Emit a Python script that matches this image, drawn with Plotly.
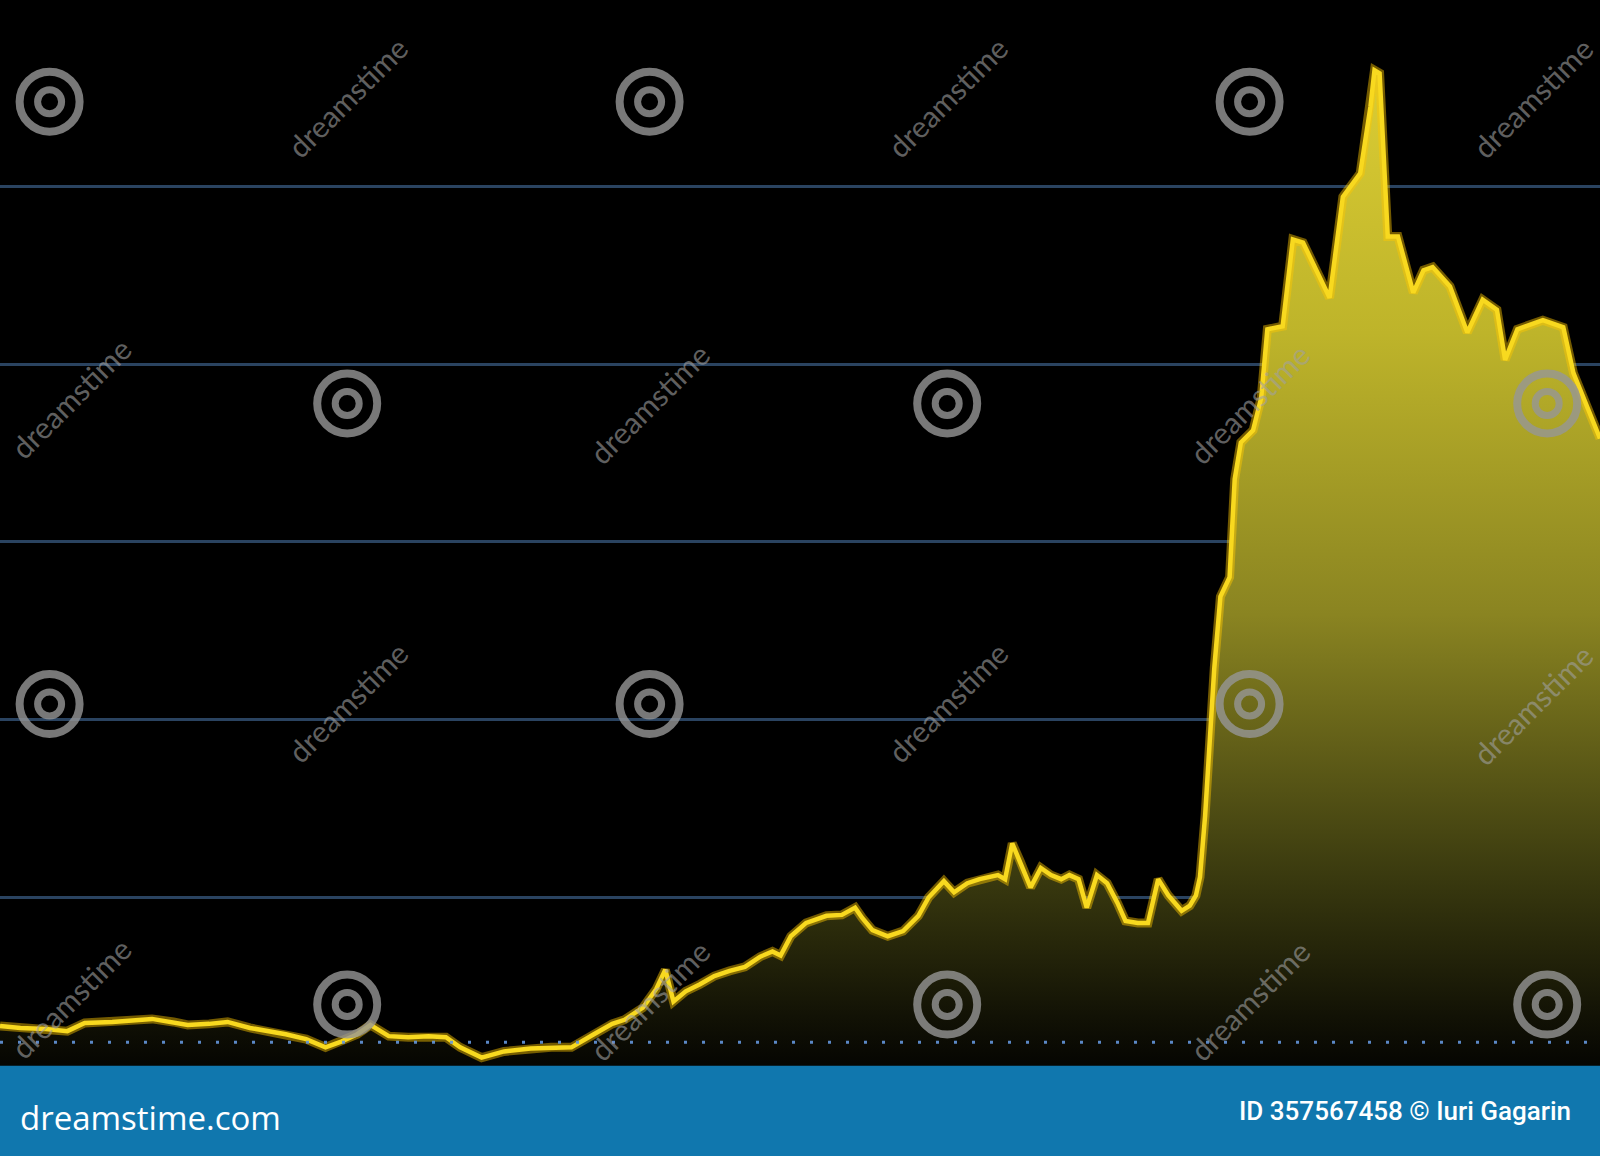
import plotly.graph_objects as go

# price series (x = time index, y = price)
t = [0, 20, 45, 66, 83, 110, 149, 170, 184, 205, 223, 245, 262, 280, 300, 319, 335, 350,
     363, 381, 400, 420, 437, 451, 472, 494, 520, 540, 560, 582, 600, 612, 630, 643, 652,
     660, 672, 686, 700, 715, 730, 745, 757, 765, 775, 790, 810, 825, 838, 845, 855, 870,
     885, 900, 910, 925, 935, 948, 960, 978, 985, 992, 1000, 1010, 1020, 1030, 1040, 1048,
     1057, 1065, 1075, 1085, 1095, 1103, 1115, 1125, 1135, 1145, 1158, 1166, 1172, 1176,
     1181, 1185, 1190, 1196, 1205, 1210, 1216, 1228, 1236, 1242, 1257, 1267, 1277, 1303,
     1316, 1333, 1343, 1347, 1352, 1360, 1370, 1385, 1395, 1404, 1421, 1438, 1453, 1467,
     1475, 1487, 1512, 1532, 1542, 1568]
price = [2.77, 2.66, 2.60, 2.48, 2.94, 3.00, 3.17, 3.00, 2.83, 2.89, 3.00, 2.66, 2.48, 2.31,
         2.03, 1.57, 1.91, 2.31, 2.83, 2.20, 2.14, 2.20, 2.14, 1.57, 0.99, 1.34, 1.51, 1.57,
         1.57, 2.31, 2.89, 3.12, 3.80, 4.84, 5.93, 4.15, 4.72, 5.12, 5.58, 5.87, 6.10, 6.67,
         6.96, 6.73, 7.82, 8.57, 8.97, 9.02, 9.43, 8.85, 8.16, 7.82, 8.11, 8.97, 10.00, 10.92,
         10.29, 10.80, 11.03, 11.26, 11.03, 13.04, 12.01, 10.57, 11.66, 11.26, 11.03, 11.26,
         11.03, 9.43, 11.26, 10.80, 9.71, 8.68, 8.57, 8.57, 11.03, 10.11, 9.25, 9.54, 10.11,
         11.15, 14.59, 18.61, 22.91, 26.92, 28.02, 33.52, 35.59, 36.28, 38.11, 41.96, 42.13,
         47.01, 46.83, 43.73, 49.41, 50.73, 54.46, 56.53, 56.36, 47.18, 47.18, 44.02, 45.28,
         45.46, 44.37, 41.78, 43.62, 43.05, 40.24, 41.96, 42.47, 42.07, 39.49, 35.82]

grid_levels = [10, 20, 30, 40, 50]
baseline_level = 1.85

footer_left = 'dreamstime.com'
footer_right = 'ID 357567458 \u00a9 Iuri Gagarin'

# watermark positions in screen fractions (x from left, y from top)
mark_text_pos = [(0.217, 0.084), (0.592, 0.084), (0.958, 0.084),
                 (0.044, 0.344), (0.406, 0.349), (0.781, 0.349),
                 (0.217, 0.607), (0.592, 0.607), (0.958, 0.609),
                 (0.044, 0.863), (0.406, 0.865), (0.781, 0.865)]
mark_logo_pos = [(0.031, 0.088), (0.406, 0.088), (0.781, 0.088),
                 (0.217, 0.349), (0.592, 0.349), (0.967, 0.349),
                 (0.031, 0.609), (0.406, 0.609), (0.781, 0.609),
                 (0.217, 0.869), (0.592, 0.869), (0.967, 0.869)]

color_line = '#f8d91f'
color_glow = 'rgba(255, 200, 0, 0.45)'
color_grid = '#2a4360'
color_footer = '#1077ae'
footer_frac = 0.078

fig = go.Figure()
fig.add_trace(go.Scatter(
    x=t, y=price, mode='lines', showlegend=False, hoverinfo='skip',
    line=dict(color=color_line, width=0),
    fill='tozeroy',
    fillgradient=dict(
        type='vertical', start=0.5, stop=57,
        colorscale=[[0, 'rgb(5, 5, 2)'], [0.05, 'rgb(18, 18, 5)'],
                    [0.19, 'rgb(58, 58, 15)'], [0.45, 'rgb(138, 132, 33)'],
                    [0.73, 'rgb(190, 180, 42)'], [1, 'rgb(220, 205, 52)']]
    )
))
fig.add_trace(go.Scatter(
    x=t, y=price, mode='lines', showlegend=False, hoverinfo='skip',
    line=dict(color=color_glow, width=9)
))
fig.add_trace(go.Scatter(
    x=t, y=price, mode='lines', showlegend=False,
    line=dict(color=color_line, width=4.5)
))

shapes = [
    dict(type='line', xref='paper', yref='y', x0=0, x1=1,
         y0=baseline_level, y1=baseline_level, layer='above',
         line=dict(color='rgba(100, 150, 220, 0.9)', width=3, dash='3px,15px')),
    dict(type='rect', xref='paper', yref='paper', x0=0, x1=1, y0=0, y1=footer_frac,
         fillcolor=color_footer, line=dict(width=0), layer='above'),
]
W, H = 1600, 1156
for (px, py) in mark_logo_pos:
    for r, w in [(30, 8), (12, 7)]:
        shapes.append(dict(
            type='circle', xref='paper', yref='paper', layer='above',
            x0=px - r / W, x1=px + r / W,
            y0=1 - py - r / H, y1=1 - py + r / H,
            line=dict(color='rgba(150, 150, 150, 0.8)', width=w)))

annotations = [
    dict(text=footer_left, xref='paper', yref='paper', x=0.011, y=0.033,
         xanchor='left', yanchor='middle', showarrow=False,
         font=dict(family='Open Sans', size=33, color='white')),
    dict(text=footer_right, xref='paper', yref='paper', x=0.983, y=0.039,
         xanchor='right', yanchor='middle', showarrow=False,
         font=dict(family='Roboto', size=26, color='white', weight=500)),
]
for (px, py) in mark_text_pos:
    annotations.append(dict(
        text='dreamstime', xref='paper', yref='paper', x=px, y=1 - py,
        xanchor='center', yanchor='middle', showarrow=False, textangle=-45,
        font=dict(family='Lato', size=30, color='rgba(160, 160, 160, 0.6)')))

fig.update_layout(
    width=W, height=H,
    margin=dict(l=0, r=0, t=0, b=0),
    paper_bgcolor='black', plot_bgcolor='black',
    shapes=shapes, annotations=annotations,
    xaxis=dict(range=[0, 1568], showgrid=False, zeroline=False,
               showticklabels=False, ticks=''),
    yaxis=dict(range=[0.53, 60.48], domain=[footer_frac, 1],
               tickvals=grid_levels, showgrid=True, gridcolor=color_grid,
               gridwidth=3, zeroline=False, showticklabels=False, ticks=''),
)

fig.write_html('out.html', config={'displayModeBar': False},
               post_script="document.body.style.margin = '0';")
